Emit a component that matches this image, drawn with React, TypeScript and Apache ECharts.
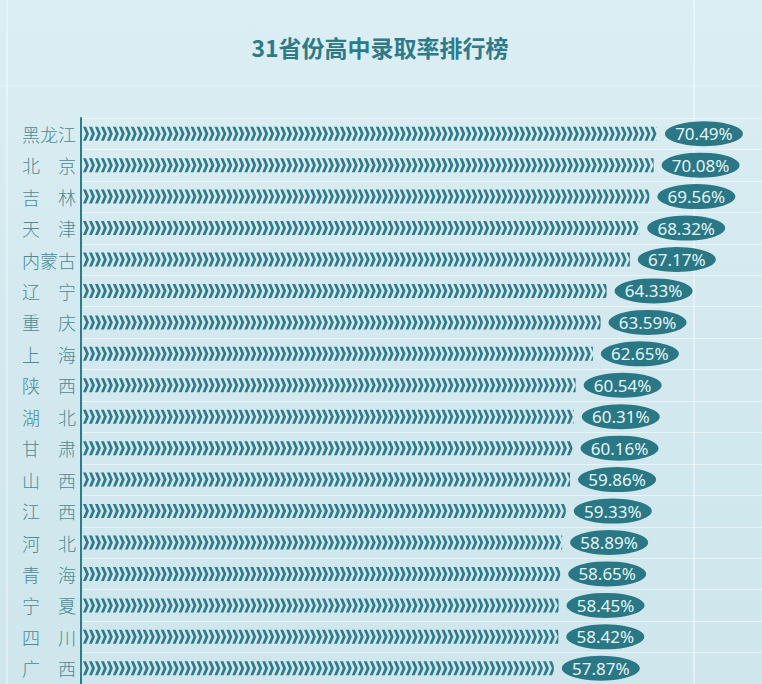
import React, { useEffect, useRef } from "react";
import * as echarts from "echarts";

const provinces = ["黑龙江", "北　京", "吉　林", "天　津", "内蒙古", "辽　宁", "重　庆", "上　海", "陕　西", "湖　北", "甘　肃", "山　西", "江　西", "河　北", "青　海", "宁　夏", "四　川", "广　西"];
const rates = [70.49, 70.08, 69.56, 68.32, 67.17, 64.33, 63.59, 62.65, 60.54, 60.31, 60.16, 59.86, 59.33, 58.89, 58.65, 58.45, 58.42, 57.87];
const titleText = "31省份高中录取率排行榜";

const chevron = "path://M0,0 L5,0 L10,10 L5,20 L0,20 L5,10 Z";

export default function App() {
  const ref = useRef<HTMLDivElement>(null);
  useEffect(() => {
    if (!ref.current) return;
    const chart = echarts.init(ref.current, null, { renderer: "svg" });
    const teal = "#2f7b8a";
    chart.setOption({
      animation: false,
      title: {
        text: titleText,
        left: 375,
        textAlign: "center",
        top: 30,
        textStyle: { fontSize: 23, fontWeight: "bold", color: "#2d7a89", fontFamily: "Noto Sans CJK SC" },
      },
      graphic: [
        { type: "line", shape: { x1: 694, y1: 0, x2: 694, y2: 684 }, style: { stroke: "rgba(255,255,255,0.55)", lineWidth: 1.5 }, z: -1 },
        { type: "line", shape: { x1: 7, y1: 0, x2: 7, y2: 684 }, style: { stroke: "rgba(255,255,255,0.45)", lineWidth: 1.5 }, z: -1 },
        { type: "line", shape: { x1: 0, y1: 86, x2: 762, y2: 86 }, style: { stroke: "rgba(255,255,255,0.35)", lineWidth: 1 }, z: -1 },
      ],
      grid: { left: 81, top: 118, width: 681, height: 570 },
      xAxis: { type: "value", min: 0, max: 83.35, show: false, splitLine: { show: false } },
      yAxis: {
        type: "category",
        data: provinces,
        inverse: true,
        axisLine: { show: true, lineStyle: { color: teal, width: 2 } },
        axisTick: { show: false },
        axisLabel: { color: "#4a8b96", fontSize: 18, margin: 5, fontFamily: "Noto Sans CJK SC", fontWeight: 300 },
        splitLine: { show: true, lineStyle: { color: "rgba(255,255,255,0.5)", width: 1 } },
      },
      series: [
        {
          type: "pictorialBar",
          data: rates,
          symbol: chevron,
          symbolSize: [6, 14],
          symbolRepeat: true,
          symbolClip: true,
          symbolMargin: 0,
          symbolOffset: [2, 0],
          itemStyle: { color: teal },
        },
        {
          type: "scatter",
          data: rates.map((v, i) => [v, i]),
          symbol: "circle",
          symbolSize: [78, 25],
          symbolOffset: [47, 0],
          itemStyle: { color: "#2a7786", opacity: 1 },
          label: {
            show: true,
            position: "inside",
            color: "#e4f5f7",
            fontSize: 17,
            fontFamily: "Noto Sans",
            formatter: (p: any) => p.value[0].toFixed(2) + "%",
          },
        },
      ],
    });
    return () => chart.dispose();
  }, []);
  return (
    <div
      style={{
        position: "fixed",
        left: 0,
        top: 0,
        width: 762,
        height: 684,
        background: "linear-gradient(180deg, #dbeef3 0%, #d3e9ef 50%, #cfe6ed 100%)",
      }}
    >
      <div ref={ref} style={{ width: 762, height: 684 }} />
    </div>
  );
}
